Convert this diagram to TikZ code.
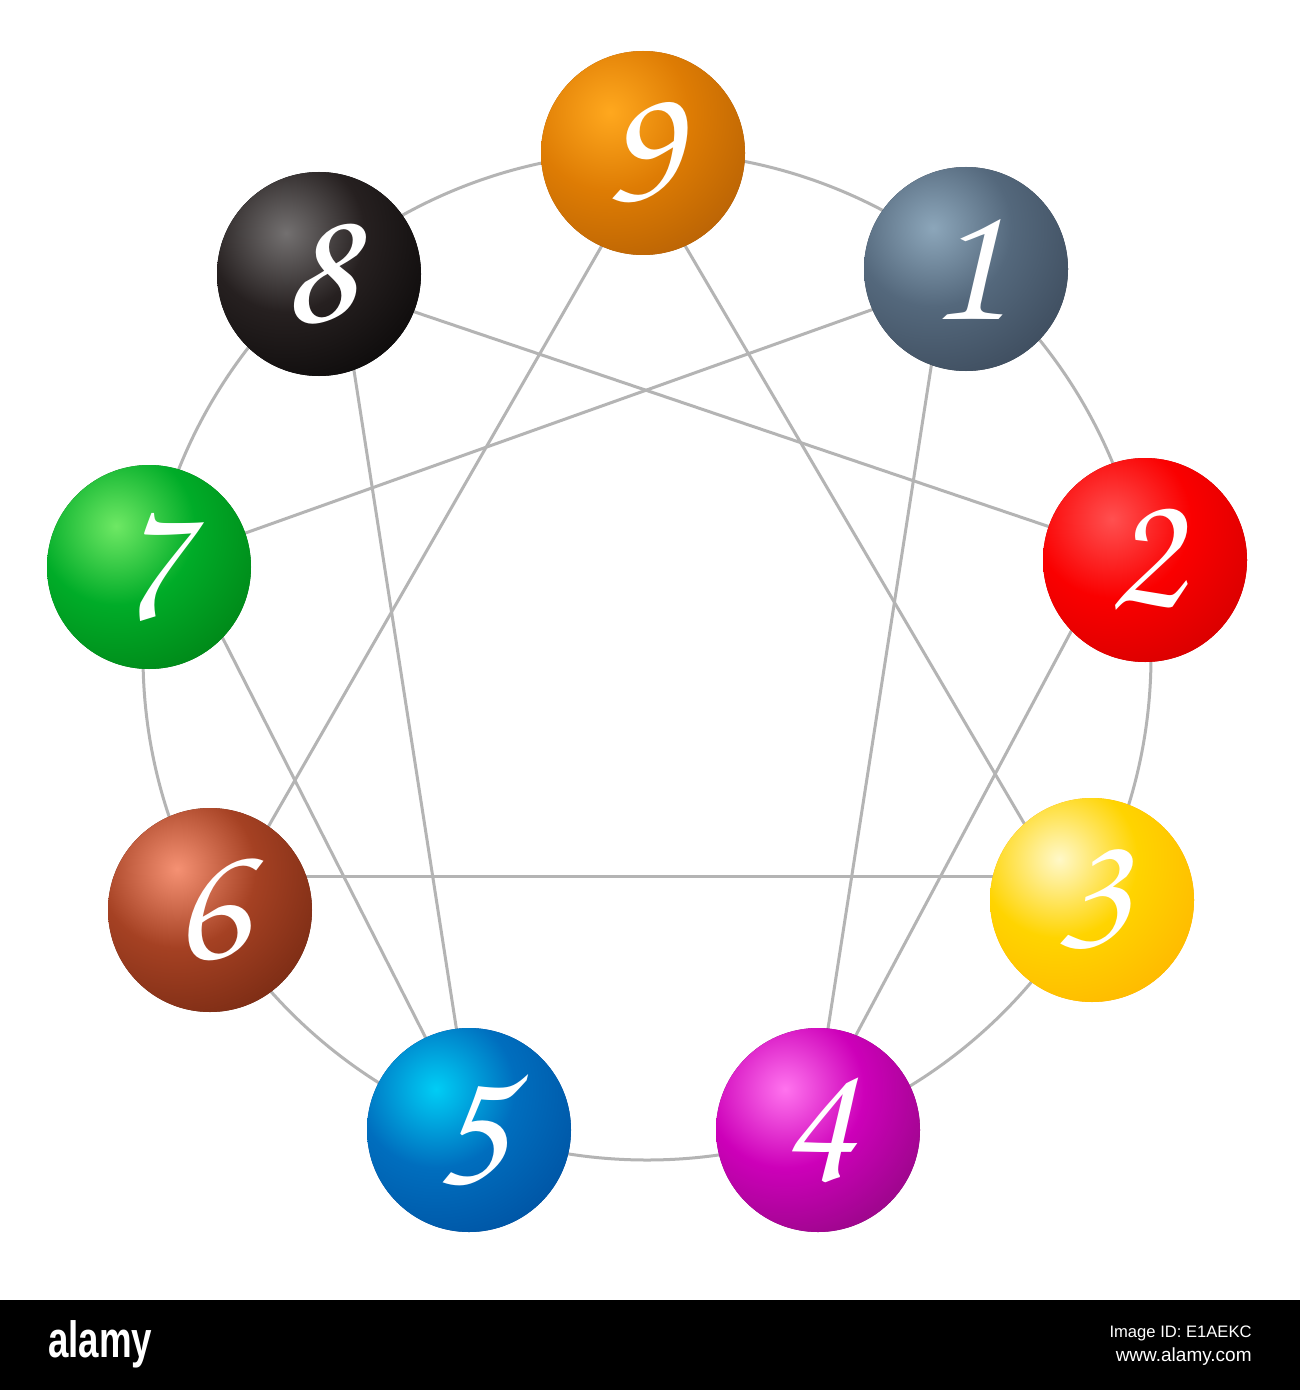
\documentclass[tikz,border=0pt]{standalone}
\usepackage{fontspec}
\newfontfamily\barfont{Liberation Sans}
\newfontfamily\digitfont{texgyrechorus-mediumitalic.otf}
\definecolor{linegray}{RGB}{180,180,180}
\definecolor{hlA}{RGB}{255,168,30}\definecolor{mdA}{RGB}{222,124,4}\definecolor{dkA}{RGB}{165,85,5}
\definecolor{hlB}{RGB}{140,166,186}\definecolor{mdB}{RGB}{84,104,124}\definecolor{dkB}{RGB}{50,62,78}
\definecolor{hlC}{RGB}{255,80,80}\definecolor{mdC}{RGB}{250,0,0}\definecolor{dkC}{RGB}{198,0,0}
\definecolor{hlD}{RGB}{255,248,200}\definecolor{mdD}{RGB}{255,212,0}\definecolor{dkD}{RGB}{255,170,0}
\definecolor{hlE}{RGB}{255,115,238}\definecolor{mdE}{RGB}{205,0,185}\definecolor{dkE}{RGB}{125,10,110}
\definecolor{hlF}{RGB}{0,205,245}\definecolor{mdF}{RGB}{0,110,190}\definecolor{dkF}{RGB}{0,70,150}
\definecolor{hlG}{RGB}{245,145,115}\definecolor{mdG}{RGB}{165,65,35}\definecolor{dkG}{RGB}{100,32,12}
\definecolor{hlH}{RGB}{110,232,100}\definecolor{mdH}{RGB}{0,172,40}\definecolor{dkH}{RGB}{0,115,15}
\definecolor{hlI}{RGB}{115,112,112}\definecolor{mdI}{RGB}{38,32,32}\definecolor{dkI}{RGB}{0,0,0}
\newcommand{\sphshade}[1]{%
  \pgfdeclareradialshading{sph#1}{\pgfpoint{0bp}{0bp}}{%
    color(0bp)=(hl#1); color(3.7bp)=(hl#1!70!md#1); color(12bp)=(md#1);
    color(31.5bp)=(dk#1); color(50bp)=(dk#1)}}
\sphshade{A}\sphshade{B}\sphshade{C}\sphshade{D}\sphshade{E}
\sphshade{F}\sphshade{G}\sphshade{H}\sphshade{I}
% sphere: node name, position, shading letter, digit
\newcommand{\orb}[4]{%
  \begin{scope}[shift={#2}]
    \clip (0,0) circle (51pt);
    \fill[dk#3] (0,0) circle (52pt);
    \shade[shading=sph#3] (-33,-41) circle (82pt);
  \end{scope}
  \node[sphere] (#1) at #2 {#4};}
\begin{document}
\begin{tikzpicture}[x=0.5pt,y=-0.5pt,
  link/.style={draw=linegray, line width=1.5pt},
  sphere/.style={circle, minimum size=102pt, inner sep=0pt, text=white,
    font=\digitfont\fontsize{86}{86}\selectfont},
  barbig/.style={text=white, font=\barfont\bfseries\fontsize{25.5}{26}\selectfont, xscale=0.72, inner sep=0pt},
  barsmall/.style={text=white, font=\barfont\fontsize{8.3}{9}\selectfont, inner sep=0pt}]
\useasboundingbox (0,0) rectangle (1300,1390);
\fill[white] (0,0) rectangle (1300,1390);
% inner figure vertices
\coordinate (c0) at (647,656);
\coordinate (v9) at (643,174);
\coordinate (v1) at (944,284);
\coordinate (v2) at (1115,549);
\coordinate (v3) at (1055,876);
\coordinate (v4) at (815,1112);
\coordinate (v5) at (472,1129);
\coordinate (v6) at (240,876);
\coordinate (v7) at (181,556);
\coordinate (v8) at (341,287);
% outer circle
\draw[link] (c0) circle (252pt);
% triangle
\draw[link] (v9) -- (v3);
\draw[link] (v3) -- (v6);
\draw[link] (v6) -- (v9);
% hexad
\draw[link] (v1) -- (v4);
\draw[link] (v4) -- (v2);
\draw[link] (v2) -- (v8);
\draw[link] (v8) -- (v5);
\draw[link] (v5) -- (v7);
\draw[link] (v7) -- (v1);
% spheres
\orb{s9}{(643,153)}{A}{9}
\orb{s1}{(966,269)}{B}{1}
\orb{s2}{(1145,560)}{C}{2}
\orb{s3}{(1092,900)}{D}{3}
\orb{s4}{(818,1130)}{E}{4}
\orb{s5}{(469,1130)}{F}{5}
\orb{s6}{(210,910)}{G}{6}
\orb{s7}{(149,567)}{H}{7}
\orb{s8}{(319,274)}{I}{8}
% bottom bar
\fill[black] (0,1300) rectangle (1300,1390);
\node[barbig, anchor=west] (logo) at (48,1344) {alamy};
\node[barsmall, anchor=east] (imgid) at (1252,1333) {Image ID: E1AEKC};
\node[barsmall, anchor=east, font=\barfont\fontsize{9.5}{10}\selectfont] (www) at (1252,1357) {www.alamy.com};
\end{tikzpicture}
\end{document}
